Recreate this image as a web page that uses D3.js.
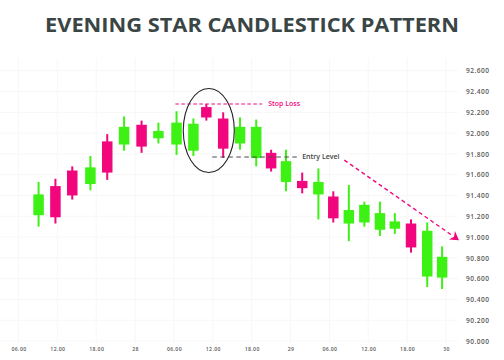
<!DOCTYPE html>
<html><head><meta charset="utf-8">
<script src="https://cdn.jsdelivr.net/npm/d3@7"></script>
<style>html,body{margin:0;padding:0;background:#fff;}svg{display:block;}</style>
</head><body>
<script>
// ---- data ----
const title = "EVENING STAR CANDLESTICK PATTERN";
// candle times in hours since 27th 00:00
const times = [9.1,11.7,14.3,17.1,19.7,22.3,25.0,27.6,30.4,33.0,35.0,37.6,40.2,42.7,45.0,47.3,49.8,52.3,54.6,57.0,59.4,61.8,64.1,66.6,69.1,71.4];
const opens  = [91.21,91.49,91.64,91.51,91.92,91.89,92.08,91.95,91.89,91.83,92.25,92.14,91.90,91.76,91.81,91.53,91.54,91.41,91.39,91.13,91.14,91.07,91.08,91.13,90.62,90.61];
const highs  = [91.53,91.56,91.68,91.78,91.99,92.16,92.12,92.10,92.21,92.14,92.28,92.20,92.15,92.13,91.84,91.84,91.62,91.66,91.44,91.50,91.34,91.34,91.23,91.17,91.14,90.91];
const lows   = [91.10,91.13,91.36,91.45,91.55,91.83,91.81,91.90,91.79,91.78,92.12,91.76,91.84,91.68,91.63,91.44,91.42,91.17,91.14,90.96,91.10,91.01,91.03,90.85,90.52,90.50];
const closes = [91.41,91.19,91.40,91.67,91.62,92.06,91.87,92.02,92.10,92.09,92.15,91.85,92.06,92.06,91.66,91.73,91.47,91.53,91.18,91.26,91.31,91.23,91.15,90.90,91.06,90.81];
const xTickHours = [6,12,18,24,30,36,42,48,54,60,66,72];
const xTickLabels = ["06.00","12.00","18.00","28","06.00","12.00","18.00","29","06.00","12.00","18.00","30"];
const yTicks = [90.0,90.2,90.4,90.6,90.8,91.0,91.2,91.4,91.6,91.8,92.0,92.2,92.4,92.6];
const stopLoss = 92.28;
const entryLevel = 91.77;
const patternIdx = [9,10,11];
const trendFrom = {t:56.3, v:91.74};
const trendTo = {t:74.0, v:90.97};

const W = 504, H = 360;
const green = "#3ef114", pink = "#f1067e";
const svg = d3.select("body").append("svg").attr("width",W).attr("height",H);
const x = d3.scaleLinear().domain([6,72]).range([18.5,446]);
const y = d3.scaleLinear().domain([90,92.6]).range([341,70.7]);

// gridlines (very faint)
svg.append("g").selectAll("line").data(yTicks).join("line")
  .attr("x1",0).attr("x2",458).attr("y1",d=>y(d)).attr("y2",d=>y(d))
  .attr("stroke","#f7f7f7").attr("stroke-width",1);
svg.append("g").selectAll("line").data(xTickHours).join("line")
  .attr("x1",d=>x(d)).attr("x2",d=>x(d)).attr("y1",58).attr("y2",343)
  .attr("stroke","#f7f7f7").attr("stroke-width",1);

// title
svg.append("text").attr("x",252).attr("y",32).attr("text-anchor","middle")
  .attr("font-family","'Open Sans', sans-serif").attr("font-weight",700)
  .attr("font-size",19.5).attr("fill","#3a4545")
  .attr("textLength",414).attr("lengthAdjust","spacingAndGlyphs").text(title);

// y axis labels (right)
const yAxis = d3.axisRight(y).tickValues(yTicks).tickFormat(d3.format(".3f")).tickSize(0).tickPadding(0);
const gy = svg.append("g").attr("transform","translate(466,0)").call(yAxis);
gy.select(".domain").remove();
gy.selectAll("text").attr("font-family","'Open Sans', sans-serif").attr("font-size",6.6)
  .attr("font-weight",600).attr("fill","#5a5a5a").attr("letter-spacing",0.45).attr("dy","0.33em");

// x axis labels
const xAxis = d3.axisBottom(x).tickValues(xTickHours).tickFormat((d,i)=>xTickLabels[i]).tickSize(0).tickPadding(0);
const gx = svg.append("g").attr("transform","translate(0,349)").call(xAxis);
gx.select(".domain").remove();
gx.selectAll("text").attr("font-family","'Open Sans', sans-serif").attr("font-size",5.2)
  .attr("font-weight",600).attr("fill","#5a5a5a").attr("letter-spacing",0.35).attr("dy","0.3em");

// candles
const candles = times.map((t,i)=>({t,o:opens[i],h:highs[i],l:lows[i],c:closes[i]}));
const bw = 10.5;
const cg = svg.append("g");
cg.selectAll("line").data(candles).join("line")
  .attr("x1",d=>x(d.t)).attr("x2",d=>x(d.t)).attr("y1",d=>y(d.h)).attr("y2",d=>y(d.l))
  .attr("stroke",d=>d.c>=d.o?green:pink).attr("stroke-width",2);
cg.selectAll("rect").data(candles).join("rect")
  .attr("x",d=>x(d.t)-bw/2).attr("width",bw)
  .attr("y",d=>y(Math.max(d.o,d.c))).attr("height",d=>Math.abs(y(d.o)-y(d.c)))
  .attr("fill",d=>d.c>=d.o?green:pink);

// stop loss line
const slStart = x(times[patternIdx[0]])-18, slEnd = x(times[patternIdx[2]])+39;
svg.append("line").attr("x1",slStart).attr("x2",slEnd).attr("y1",y(stopLoss)).attr("y2",y(stopLoss))
  .attr("stroke",pink).attr("stroke-width",1.1).attr("stroke-dasharray","3.5,2.5");
svg.append("text").attr("x",slEnd+6).attr("y",y(stopLoss)).attr("dy","0.35em")
  .attr("font-family","'Open Sans', sans-serif").attr("font-size",7).attr("font-weight",600)
  .attr("fill",pink).text("Stop Loss");

// entry level line
const elStart = x(times[patternIdx[1]])+6, elEnd = x(times[16])-4;
svg.append("line").attr("x1",elStart).attr("x2",elEnd).attr("y1",y(entryLevel)).attr("y2",y(entryLevel))
  .attr("stroke","#4a4a4a").attr("stroke-width",1.1).attr("stroke-dasharray","4.5,3.5");
svg.append("text").attr("x",elEnd+4).attr("y",y(entryLevel)).attr("dy","0.35em")
  .attr("font-family","'Open Sans', sans-serif").attr("font-size",7).attr("font-weight",600)
  .attr("fill","#444").text("Entry Level");

// ellipse around pattern
const pTop = d3.max(patternIdx,i=>highs[i]), pBot = d3.min(patternIdx,i=>lows[i]);
const ex = (x(times[patternIdx[0]])+x(times[patternIdx[2]]))/2+0.5;
svg.append("ellipse").attr("cx",ex).attr("cy",(y(pTop)+y(pBot))/2-0.5)
  .attr("rx",25.5).attr("ry",42).attr("fill","none").attr("stroke","#222").attr("stroke-width",1.1);

// trend arrow
const ax1 = x(trendFrom.t), ay1 = y(trendFrom.v), ax2 = x(trendTo.t), ay2 = y(trendTo.v);
const ang = Math.atan2(ay2-ay1, ax2-ax1);
const back = 7;
svg.append("line").attr("x1",ax1).attr("y1",ay1)
  .attr("x2",ax2-back*Math.cos(ang)).attr("y2",ay2-back*Math.sin(ang))
  .attr("stroke",pink).attr("stroke-width",1.4).attr("stroke-dasharray","4,3");
const hl = 10, hw = 0.55;
const p1 = [ax2, ay2];
const p2 = [ax2-hl*Math.cos(ang-hw), ay2-hl*Math.sin(ang-hw)];
const p3 = [ax2-hl*Math.cos(ang+hw), ay2-hl*Math.sin(ang+hw)];
const pm = [ax2-6*Math.cos(ang), ay2-6*Math.sin(ang)];
svg.append("path").attr("d",`M${p1}L${p2}L${pm}L${p3}Z`).attr("fill",pink);
</script>
</body></html>
